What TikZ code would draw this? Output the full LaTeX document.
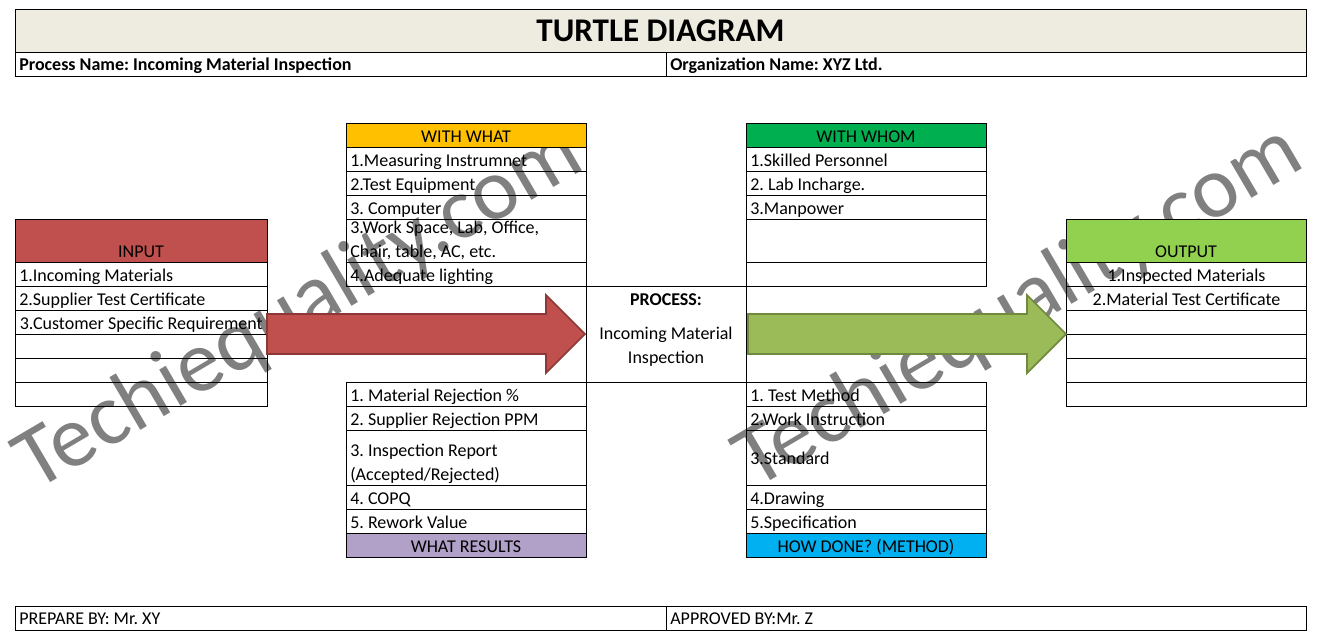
\documentclass[tikz,border=0pt]{standalone}
\usepackage{fontspec}
\setmainfont{Carlito}
\frenchspacing
\definecolor{ctitle}{HTML}{EEECE1}
\definecolor{cinput}{HTML}{C0504D}
\definecolor{cwhat}{HTML}{FFC000}
\definecolor{cwhom}{HTML}{00B050}
\definecolor{coutput}{HTML}{92D050}
\definecolor{cresult}{HTML}{B1A0C7}
\definecolor{chow}{HTML}{00B0F0}
\definecolor{credfill}{HTML}{C0504D}
\definecolor{credline}{HTML}{8C3836}
\definecolor{cgreenfill}{HTML}{9BBB59}
\definecolor{cgreenline}{HTML}{71893F}
\definecolor{cwm}{HTML}{808080}
\newcommand\cbox[6][]{\node[cellst,#1,minimum width={#5*0.75pt},minimum height={#6*0.75pt}] (#2) at (#3,#4) {};}
\newcommand\ctxt[5][]{\node[txt,anchor=base west,#1] (#2) at (#3,#4) {#5};}
\begin{document}
\begin{tikzpicture}[x=0.75pt,y=-0.75pt,
  cellst/.style={draw=black,line width=0.75pt,anchor=north west,inner sep=0pt,outer sep=0pt},
  txt/.style={inner sep=0pt,font=\fontsize{13.5}{18}\selectfont},
  btxt/.style={font=\bfseries\fontsize{13.5}{18}\selectfont},
  wm/.style={inner sep=0pt,text=cwm,font=\fontsize{66}{66}\selectfont,anchor=base west,rotate=30.4},
  bigarrow/.style={line width=1.3pt,line join=miter}]
\useasboundingbox (0,0) rectangle (1326,643);
% watermark (behind everything)
\node[wm] (wm1) at (35,492) {Techiequality.com};
\node[wm] (wm2) at (755,490) {Techiequality.com};
% title block
\cbox[fill=ctitle]{title}{15}{9}{1291}{43}
\node[inner sep=0pt,anchor=base,font=\bfseries\fontsize{24.8}{25}\selectfont] (titletxt) at (660.5,41.5) {TURTLE DIAGRAM};
\cbox{pn}{15}{52}{651}{24}
\cbox{on}{666}{52}{640}{24}
\ctxt[btxt]{pntxt}{19}{70}{Process Name: Incoming Material Inspection}
\ctxt[btxt]{ontxt}{670}{70}{Organization Name: XYZ Ltd.}
% INPUT
\cbox[fill=cinput]{in0}{15}{219}{252}{43}
\cbox{in1}{15}{262}{252}{24}
\cbox{in2}{15}{286}{252}{24}
\cbox{in3}{15}{310}{252}{24}
\cbox{in4}{15}{334}{252}{24}
\cbox{in5}{15}{358}{252}{24}
\cbox{in6}{15}{382}{252}{24}
\ctxt[anchor=base]{in0t}{141}{257}{INPUT}
\ctxt{in1t}{19}{281}{1.Incoming Materials}
\ctxt{in2t}{19}{305}{2.Supplier Test Certificate}
\ctxt{in3t}{19.5}{329}{3.Customer Specific Requirement}
% WITH WHAT
\cbox[fill=cwhat]{ww0}{346}{123}{240}{24}
\cbox{ww1}{346}{147}{240}{24}
\cbox{ww2}{346}{171}{240}{24}
\cbox{ww3}{346}{195}{240}{24}
\cbox{ww4}{346}{219}{240}{43}
\cbox{ww5}{346}{262}{240}{24}
\ctxt[anchor=base]{ww0t}{466}{142.5}{WITH WHAT}
\ctxt{ww1t}{350}{166}{1.Measuring Instrumnet}
\ctxt{ww2t}{350}{190}{2.Test Equipment}
\ctxt{ww3t}{350}{214}{3. Computer}
\ctxt{ww4t}{350}{233}{3.Work Space, Lab, Office,}
\ctxt{ww4u}{350}{257}{Chair, table, AC, etc.}
\ctxt{ww5t}{350}{281}{4.Adequate lighting}
% WITH WHOM
\cbox[fill=cwhom]{wh0}{746}{123}{240}{24}
\cbox{wh1}{746}{147}{240}{24}
\cbox{wh2}{746}{171}{240}{24}
\cbox{wh3}{746}{195}{240}{24}
\cbox{wh4}{746}{219}{240}{43}
\cbox{wh5}{746}{262}{240}{24}
\ctxt[anchor=base]{wh0t}{866}{142.5}{WITH WHOM}
\ctxt{wh1t}{750}{166}{1.Skilled Personnel}
\ctxt{wh2t}{750}{190}{2. Lab Incharge.}
\ctxt{wh3t}{750}{214}{3.Manpower}
% PROCESS
\cbox{proc}{586}{286}{160}{96}
\ctxt[anchor=base,btxt]{proct}{666}{305.5}{PROCESS:}
\ctxt[anchor=base]{procu}{666}{339.5}{Incoming Material}
\ctxt[anchor=base]{procv}{666}{363.5}{Inspection}
% WHAT RESULTS
\cbox{wr1}{346}{382}{240}{24}
\cbox{wr2}{346}{406}{240}{24}
\cbox{wr3}{346}{430}{240}{55}
\cbox{wr4}{346}{485}{240}{24}
\cbox{wr5}{346}{509}{240}{24}
\cbox[fill=cresult]{wr0}{346}{533}{240}{24}
\ctxt{wr1t}{350}{401}{1. Material Rejection \%}
\ctxt{wr2t}{350}{425}{2. Supplier Rejection PPM}
\ctxt{wr3t}{350}{456}{3. Inspection Report}
\ctxt{wr3u}{350}{480}{(Accepted/Rejected)}
\ctxt{wr4t}{350}{504}{4. COPQ}
\ctxt{wr5t}{350}{528}{5. Rework Value}
\ctxt[anchor=base]{wr0t}{466}{552}{WHAT RESULTS}
% HOW DONE
\cbox{hd1}{746}{382}{240}{24}
\cbox{hd2}{746}{406}{240}{24}
\cbox{hd3}{746}{430}{240}{55}
\cbox{hd4}{746}{485}{240}{24}
\cbox{hd5}{746}{509}{240}{24}
\cbox[fill=chow]{hd0}{746}{533}{240}{24}
\ctxt{hd1t}{750}{401}{1. Test Method}
\ctxt{hd2t}{750}{425}{2.Work Instruction}
\ctxt{hd3t}{750}{464}{3.Standard}
\ctxt{hd4t}{750}{504}{4.Drawing}
\ctxt{hd5t}{750}{528}{5.Specification}
\ctxt[anchor=base]{hd0t}{866}{552}{HOW DONE? (METHOD)}
% OUTPUT
\cbox[fill=coutput]{out0}{1066}{219}{240}{43}
\cbox{out1}{1066}{262}{240}{24}
\cbox{out2}{1066}{286}{240}{24}
\cbox{out3}{1066}{310}{240}{24}
\cbox{out4}{1066}{334}{240}{24}
\cbox{out5}{1066}{358}{240}{24}
\cbox{out6}{1066}{382}{240}{24}
\ctxt[anchor=base]{out0t}{1186}{257}{OUTPUT}
\ctxt[anchor=base]{out1t}{1186.5}{281}{1.Inspected Materials}
\ctxt[anchor=base]{out2t}{1186.5}{305}{2.Material Test Certificate}
% footer
\cbox{prep}{15}{606}{651}{24}
\cbox{appr}{666}{606}{640}{24}
\ctxt{prept}{19}{624}{PREPARE BY: Mr. XY}
\ctxt{apprt}{670}{624}{APPROVED BY:Mr. Z}
% block arrows
\draw[bigarrow,fill=credfill,draw=credline] (267,314) -- (546,314) -- (546,295) -- (585,334) -- (546,373) -- (546,354) -- (267,354) -- cycle;
\draw[bigarrow,fill=cgreenfill,draw=cgreenline] (748,314) -- (1027,314) -- (1027,295) -- (1066,334) -- (1027,373) -- (1027,354) -- (748,354) -- cycle;
\end{tikzpicture}
\end{document}
